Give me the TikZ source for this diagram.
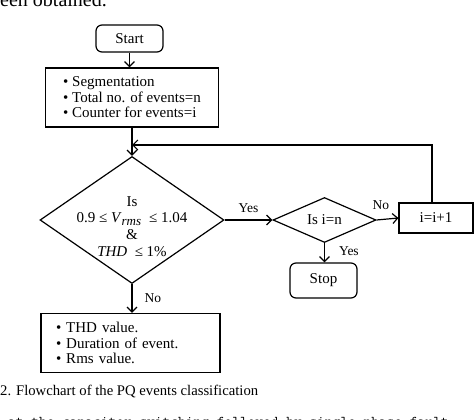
\documentclass[tikz,border=0pt]{standalone}
\usepackage{fontspec}
\setmainfont{Liberation Serif}
\usetikzlibrary{shapes.geometric,arrows.meta}
\tikzset{
  flow/.style={line width=1.2pt, -{Straight Barb[length=5pt,width=10pt]}},
  term/.style={draw, line width=1.2pt, rounded corners=6pt, font=\fontsize{15}{15.5}\selectfont},
  listbox/.style={draw, line width=1.2pt, align=left, minimum height=59pt, font=\fontsize{15}{15.5}\selectfont},
  procbox/.style={draw, line width=1.2pt, font=\fontsize{15}{15.5}\selectfont},
  decision/.style={draw, diamond, line width=1.2pt, inner sep=0pt, font=\fontsize{15}{15.5}\selectfont},
  lbl/.style={font=\fontsize{13.5}{14}\selectfont, inner sep=0pt}
}
\begin{document}
\begin{tikzpicture}[x=1pt, y=-1pt]
  \useasboundingbox (0,0) rectangle (474,420);
  \clip (0,0) rectangle (474,420);
  % bits of the page round the figure
  \node[anchor=base west, inner sep=0pt, font=\fontsize{20}{22}\selectfont] (prevline) at (0,7) {een obtained.};
  \node[anchor=base west, inner sep=0pt, font=\fontsize{14.7}{16}\selectfont] (caption) at (0,395) {2. Flowchart of the PQ events classification};
  \node[anchor=base west, inner sep=0pt, font=\ttfamily\fontsize{15}{16}\selectfont] (nextline) at (8,426) {at the capacitor switching followed by single phase fault};

  % flowchart
  \node[term, minimum width=67pt, minimum height=27pt] (start) at (129.5,38.5) {Start};
  \node[listbox, minimum width=173pt] (seg) at (132,97.5) {\textbullet\ Segmentation\\ \textbullet\ Total no. of events=n\\ \textbullet\ Counter for events=i};
  \node[decision, minimum width=184pt, minimum height=127pt] (cond) at (132,220) {};
  \node[align=center, inner sep=0pt, font=\fontsize{15}{16.7}\selectfont] (condtext) at (132,226.5) {Is\\ 0.9 ≤ \textit{V}\textsubscript{\fontsize{13}{14}\selectfont\textit{rms}}\enspace ≤ 1.04\\ \&\\ \textit{THD}\enspace ≤ 1\%};
  \node[decision, minimum width=103pt, minimum height=45pt] (last) at (324.5,220) {Is i=n};
  \node[procbox, minimum width=74pt, minimum height=30pt] (inc) at (436,218) {i=i+1};
  \node[term, minimum width=67pt, minimum height=35pt] (stop) at (323.5,280.5) {Stop};
  \node[listbox, inner xsep=15pt, text width=149pt] (res) at (130.5,343) {\textbullet\ THD value.\\ \textbullet\ Duration of event.\\ \textbullet\ Rms value.};
  \coordinate (back) at (132,145);
  \coordinate (up) at (432,145);

  \draw[flow] (start) -- (start |- seg.north);
  \draw[flow] (seg.south -| cond) -- (cond.north);
  \draw[flow] (cond.east) -- node[lbl, above=7pt] {Yes} (last.west);
  \draw[flow] (last.east) -- node[lbl, above=9pt, pos=.2] {No} (inc.west -| inc.west);
  \draw[flow] (last.south) -- node[lbl, right=14pt, yshift=2pt] {Yes} (last.south |- stop.north);
  \draw[flow] (up |- inc.north) -- (up) -- (back);
  \draw[flow] (cond.south) -- node[lbl, right=12pt] {No} (cond.south |- res.north);
\end{tikzpicture}
\end{document}
